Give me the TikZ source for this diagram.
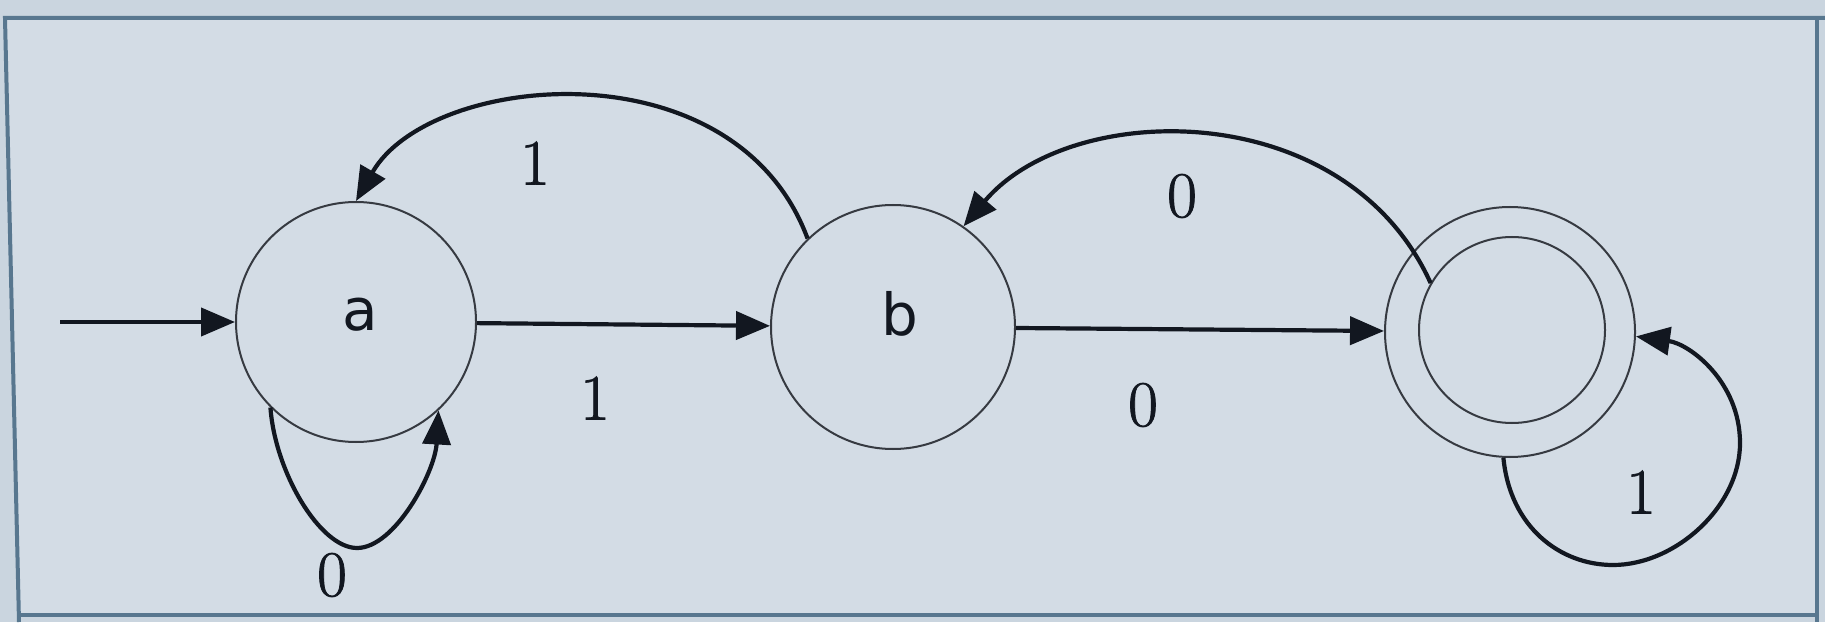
\documentclass[tikz,border=0pt]{standalone}
\usepackage{fontspec}
\newfontfamily\statefont{DejaVu Sans}
\newfontfamily\digitfont{Latin Modern Roman}[FakeBold=1.2]
\usetikzlibrary{arrows.meta}
\definecolor{bgout}{HTML}{CAD5DF}
\definecolor{bgin}{HTML}{D3DCE5}
\definecolor{framec}{HTML}{58778F}
\definecolor{ink}{HTML}{121720}
\begin{document}
\begin{tikzpicture}[x=1pt,y=1pt,
  state/.style={circle, draw=ink!85, line width=2pt, inner sep=0pt},
  edge/.style={draw=ink, line width=4.2pt, -{Triangle[length=34pt,width=28pt]}},
  lbl/.style={inner sep=0pt, font=\digitfont\fontsize{65}{70}\selectfont, text=ink},
  sname/.style={inner sep=0pt, anchor=base, font=\statefont\fontsize{58}{60}\selectfont, text=ink}]
\useasboundingbox (0,0) rectangle (1825,622);
\fill[bgout] (0,0) rectangle (1825,622);
\fill[bgin] (5,604) -- (1817,604) -- (1817,7) -- (19,7) -- cycle;
\draw[framec, line width=4pt] (1825,604) -- (5,604) -- (19,0);
\draw[framec, line width=4pt] (19,7) -- (1817,7);
\draw[framec, line width=4pt] (1817,604) -- (1817,0);

\node[state, minimum size=240pt] (a) at (356,300) {};
\node[state, minimum size=244pt] (b) at (893,295) {};
\node[state, minimum size=250pt] (acc) at (1510,290) {};
\node[state, minimum size=186pt] (accin) at (1512,292) {};
\node[sname] (la) at (360,291) {a};
\node[sname] (lb) at (900,287) {b};
\coordinate (start) at (60,300);

\draw[edge] (start) -- (a);
\draw[edge] (a) -- (b);
\draw[edge] (b) -- (acc);
\draw[edge] (b.134) .. controls (735,579) and (430,550) .. (a.90);
\draw[edge] (accin.150) .. controls (1345,527) and (1071,523) .. (b.55);
\draw[edge] (a.225) .. controls (275,150) and (320,74) .. (357,74)
   .. controls (395,74) and (435,150) .. (a.313);
\draw[edge] (acc.267) .. controls (1510,95) and (1560,57) .. (1613,57)
   .. controls (1675,57) and (1740,115) .. (1740,179)
   .. controls (1740,240) and (1690,278) .. (acc.358);

\node[lbl] (l1) at (535,459) {1};
\node[lbl] (l2) at (595,224) {1};
\node[lbl] (l3) at (332,47) {0};
\node[lbl] (l4) at (1182,426) {0};
\node[lbl] (l5) at (1143,217) {0};
\node[lbl] (l6) at (1641,130) {1};
\end{tikzpicture}
\end{document}
